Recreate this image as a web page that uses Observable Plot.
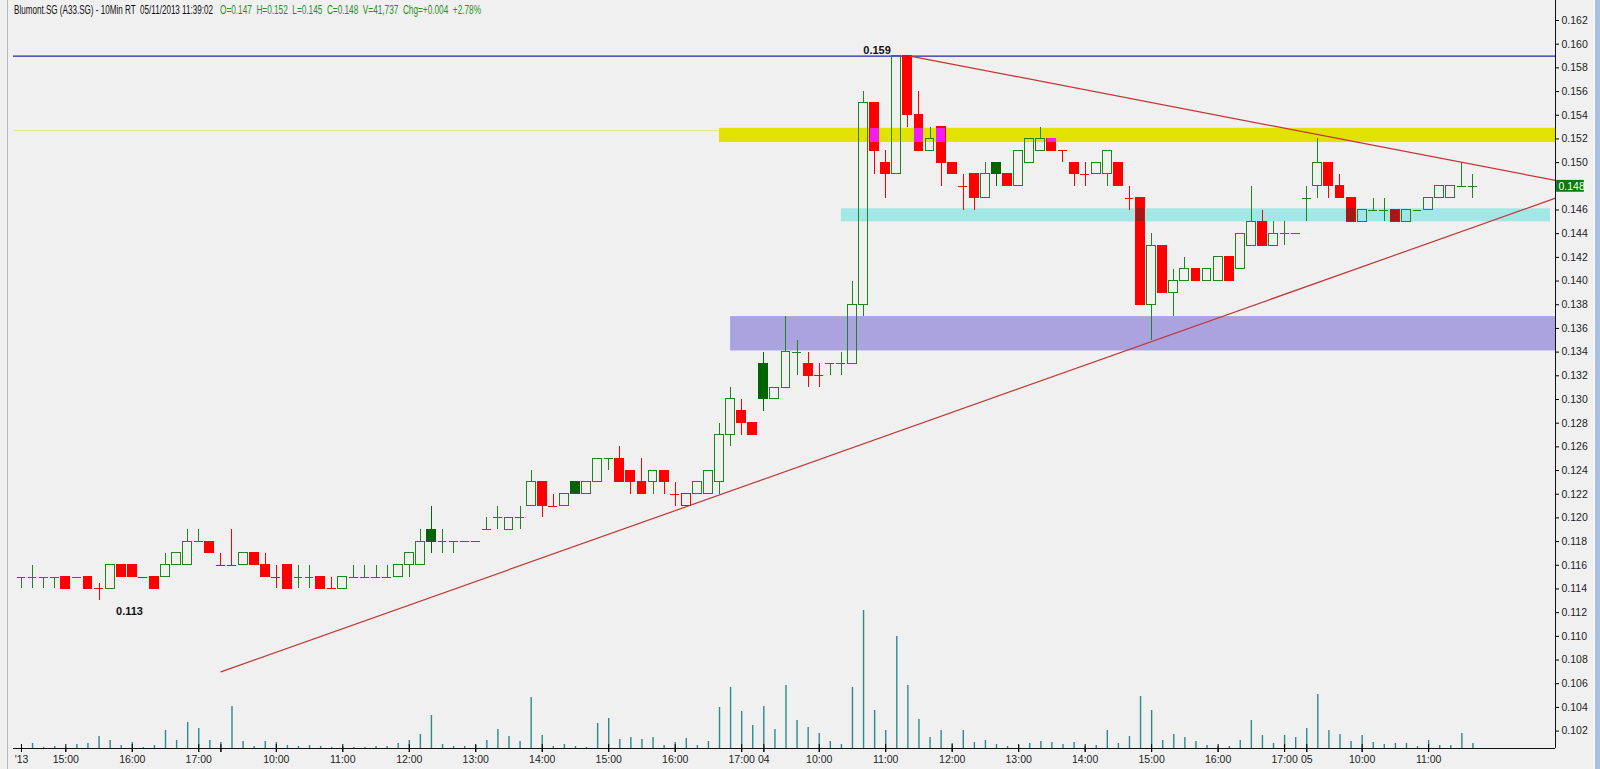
<!DOCTYPE html>
<html><head><meta charset="utf-8">
<script src="https://cdn.jsdelivr.net/npm/d3@7"></script>
<script src="https://cdn.jsdelivr.net/npm/@observablehq/plot@0.6"></script>
<style>
html,body{margin:0;padding:0;background:#f0f0f0;}
#wrap{position:relative;width:1600px;height:769px;overflow:hidden;background:#f0f0f0;}
#wrap svg{position:absolute;left:0;top:0;overflow:visible;}
.hdr{position:absolute;top:3px;font:12px "Liberation Sans",Arial,sans-serif;white-space:pre;transform-origin:0 0;line-height:14px;}
#h1{left:14px;color:#111;}
#h2{left:220px;color:#239023;}
#lframe{position:absolute;left:7px;top:0;width:1px;height:769px;background:#b8b8b8;}
#rframe{position:absolute;left:1594px;top:0;width:6px;height:769px;background:#a8bfe4;border-left:1px solid #fafafa;}
</style></head><body>
<div id="wrap">
<div id="lframe"></div><div id="rframe"></div>
<span class="hdr" id="h1">Blumont.SG (A33.SG) - 10Min RT  05/11/2013 11:39:02</span>
<span class="hdr" id="h2">O=0.147  H=0.152  L=0.145  C=0.148  V=41,737  Chg=+0.004  +2.78%</span>
</div>
<script>
// ---- data (10-minute bars, index order) ----
const open = [
.115,.115,.115,.115,.115,.115,.115,.114,.114,.116,
.116,.115,.115,.115,.116,.116,.118,.118,.116,.116,
.116,.117,.116,.115,.116,.115,.115,.115,.114,.114,
.115,.115,.115,.115,.115,.116,.116,.119,.118,.118,
.118,.118,.119,.120,.119,.120,.121,.123,.121,.121,
.123,.122,.123,.125,.125,.124,.123,.123,.124,.122,
.121,.122,.122,.123,.127,.129,.128,.133,.130,.131,
.134,.133,.132,.133,.133,.133,.138,.155,.150,.149,
.159,.154,.151,.153,.150,.148,.149,.147,.150,.149,
.148,.150,.151,.152,.151,.150,.149,.149,.149,.150,
.147,.147,.138,.143,.139,.140,.141,.140,.140,.142,
.141,.143,.145,.143,.144,.144,.147,.148,.150,.148,
.147,.145,.146,.146,.146,.145,.146,.146,.147,.147,
.148,.148];
const high = [
.115,.116,.115,.115,.115,.115,.115,.1145,.116,.116,
.116,.115,.115,.117,.117,.119,.119,.118,.117,.119,
.117,.117,.117,.116,.116,.116,.116,.115,.115,.115,
.116,.116,.116,.116,.116,.117,.119,.121,.119,.118,
.118,.118,.120,.121,.120,.121,.124,.123,.122,.122,
.123,.123,.125,.125,.126,.124,.125,.124,.124,.123,
.122,.123,.124,.128,.131,.130,.128,.134,.131,.137,
.135,.134,.133,.133,.134,.140,.156,.155,.151,.159,
.159,.156,.153,.153,.150,.149,.149,.150,.150,.149,
.151,.152,.153,.152,.151,.150,.150,.150,.151,.150,
.148,.147,.144,.143,.141,.142,.141,.141,.142,.142,
.144,.148,.146,.145,.145,.144,.148,.152,.150,.149,
.147,.146,.147,.147,.146,.146,.146,.147,.148,.148,
.150,.149];
const low = [
.114,.114,.114,.114,.114,.115,.114,.113,.114,.115,
.115,.115,.114,.115,.116,.116,.118,.117,.116,.116,
.116,.116,.115,.114,.114,.114,.114,.114,.114,.114,
.115,.115,.115,.115,.115,.115,.116,.117,.117,.117,
.118,.118,.119,.119,.119,.119,.121,.120,.121,.121,
.122,.122,.123,.124,.123,.122,.122,.122,.122,.121,
.121,.122,.122,.122,.126,.127,.127,.129,.130,.131,
.132,.131,.131,.132,.132,.133,.137,.149,.147,.149,
.153,.151,.151,.148,.149,.146,.146,.147,.148,.148,
.148,.150,.151,.151,.150,.148,.148,.149,.148,.148,
.146,.138,.135,.139,.137,.140,.140,.140,.140,.140,
.141,.143,.143,.143,.143,.144,.145,.147,.147,.147,
.145,.145,.146,.145,.145,.145,.146,.146,.147,.147,
.148,.147];
const close = [
.115,.115,.115,.115,.114,.115,.114,.114,.116,.115,
.115,.115,.114,.116,.117,.118,.118,.117,.116,.116,
.117,.116,.115,.115,.114,.115,.115,.114,.114,.115,
.115,.115,.115,.115,.116,.117,.118,.118,.118,.118,
.118,.118,.119,.120,.120,.120,.123,.121,.121,.122,
.122,.123,.125,.125,.123,.123,.122,.124,.123,.122,
.122,.123,.124,.127,.130,.128,.127,.130,.131,.134,
.134,.132,.132,.133,.133,.138,.155,.151,.149,.159,
.154,.151,.152,.150,.149,.148,.147,.149,.149,.148,
.151,.152,.152,.151,.151,.149,.149,.150,.151,.148,
.147,.138,.143,.139,.140,.141,.140,.141,.142,.140,
.144,.145,.143,.144,.144,.144,.147,.150,.148,.147,
.145,.146,.146,.146,.145,.146,.146,.147,.148,.148,
.148,.148];
// volume, read as bar heights (arbitrary units)
const volume = [
1,5,1,2,1,4,5,12,8,3,
6,1,3,18,8,26,20,8,6,42,
7,2,7,6,3,2,3,2,1,2,
1,1,2,2,5,8,14,33,4,2,
2,3,8,19,12,7,51,13,2,4,
2,1,25,30,9,11,9,11,3,6,
10,3,7,41,61,37,23,42,19,63,
28,21,15,7,4,61,138,38,18,112,
63,29,11,18,5,18,6,8,4,2,
3,5,7,6,4,6,2,3,18,5,
12,52,38,8,14,11,7,3,2,2,
8,28,13,5,13,11,20,54,18,14,
7,13,6,4,5,5,2,8,3,3,
15,5];

// x-axis ticks (bar index) and labels
const xTickIndex = [0,4,10,16,18,23,29,35,41,47,53,59,65,67,72,78,84,90,96,102,108,114,116,121,127];
const xTickLabel = ["'13","15:00","16:00","17:00","","10:00","11:00","12:00","13:00","14:00","15:00","16:00","17:00","04","10:00","11:00","12:00","13:00","14:00","15:00","16:00","17:00","05","10:00","11:00"];
// price axis ticks
const yTicks = [0.102,0.104,0.106,0.108,0.110,0.112,0.114,0.116,0.118,0.120,0.122,0.124,0.126,0.128,0.130,0.132,0.134,0.136,0.138,0.140,0.142,0.144,0.146,0.148,0.150,0.152,0.154,0.156,0.158,0.160,0.162];

// annotation zones (price bands) and lines
const bandName  = ["resistance","support","zone"];
const bandLo    = [0.1517, 0.1450, 0.1341];
const bandHi    = [0.1529, 0.1461, 0.1370];
const bandFrom  = [63, 74, 64];
const bandTo    = [null, 138, null];
const bandColor = ["#e2e200", "#a2e6e6", "#aba3e0"];
const bandTint  = ["#f21ef0", "#a81616", null];
const yellowLevel = 0.1527;
const blueLevel = 0.159;
const upperTrendX = [80.2, 138.45], upperTrendY = [0.1590, 0.1485];
const lowerTrendX = [18.0, 138.45], lowerTrendY = [0.1070, 0.1470];

// ---- build ----
const xDomain = [-0.72, 138.45];
const yDomain = [0.10053, 0.16369];
const UP = "#1f861f", UPFILL = "#006400", DN = "#ff0000";
const fmt = d3.format(".3f");

const data = open.map((o, i) => ({i, o, h: high[i], l: low[i], c: close[i], v: volume[i]}));
let prevCol = "up";
data.forEach((d, k) => {
  let col = prevCol;
  if (k > 0) { if (d.c > data[k-1].c) col = "up"; else if (d.c < data[k-1].c) col = "dn"; }
  d.col = col; prevCol = col;
  d.top = Math.max(d.o, d.c); d.bot = Math.min(d.o, d.c);
  d.kind = d.c > d.o ? "hollow" : d.c < d.o ? "filled" : "doji";
  d.stroke = col === "up" ? (d.kind === "filled" ? UPFILL : UP) : DN;
  d.fill = d.kind === "filled" ? (col === "up" ? UPFILL : DN) : "none";
});
const bodies = data.filter(d => d.kind !== "doji");
const dojis = data.filter(d => d.kind === "doji");
const bands = bandName.map((n, k) => ({n, lo: bandLo[k], hi: bandHi[k], from: bandFrom[k], to: bandTo[k] == null ? xDomain[1] : bandTo[k], color: bandColor[k], tint: bandTint[k]}));
const overlays = [];
bands.forEach(b => { if (!b.tint) return; bodies.forEach(d => {
  if (d.fill === DN && d.i >= b.from && d.i <= b.to) {
    const lo = Math.max(d.bot, b.lo), hi = Math.min(d.top, b.hi);
    if (hi > lo) overlays.push({i: d.i, lo, hi, fill: b.tint});
  }});});
const upper = upperTrendX.map((x, k) => ({x, y: upperTrendY[k]}));
const lower = lowerTrendX.map((x, k) => ({x, y: lowerTrendY[k]}));
const hiI = d3.maxIndex(high), loI = d3.minIndex(low);
const last = close[close.length - 1];
const labelMap = new Map(xTickIndex.map((v, k) => [v, xTickLabel[k]]));
const common = {width: 1600, height: 769, marginLeft: 13, marginRight: 45, marginBottom: 21};
const font = "'Liberation Sans', Arial, sans-serif";

const volPlot = Plot.plot({
  ...common, marginTop: 588,
  x: {domain: xDomain, axis: null},
  y: {domain: [0, 160], axis: null},
  style: {background: "#f0f0f0"},
  marks: [
    Plot.ruleX(data, {x: "i", y1: 0, y2: "v", stroke: "#2c8a8a", strokeWidth: 1.4})
  ]
});

const pricePlot = Plot.plot({
  ...common, marginTop: 0,
  x: {domain: xDomain, axis: null},
  y: {domain: yDomain, axis: null},
  color: {type: "identity"},
  style: {background: "transparent", fontFamily: font, overflow: "visible"},
  marks: [
    Plot.rect(bands, {x1: "from", x2: "to", y1: "lo", y2: "hi", fill: "color"}),
    Plot.ruleY([yellowLevel], {x1: () => xDomain[0], x2: () => bandFrom[0], stroke: "#e6e67c"}),
    Plot.ruleY([blueLevel], {stroke: "#2626b4", strokeWidth: 1.2}),
    Plot.ruleX(data, {x: "i", y1: "top", y2: "h", stroke: "stroke", shapeRendering: "crispEdges"}),
    Plot.ruleX(data, {x: "i", y1: "l", y2: "bot", stroke: "stroke", shapeRendering: "crispEdges"}),
    Plot.rect(bodies, {x1: d => d.i - 0.4, x2: d => d.i + 0.4, y1: "bot", y2: "top", fill: "fill", stroke: "stroke", shapeRendering: "crispEdges"}),
    Plot.rect(overlays, {x1: d => d.i - 0.4, x2: d => d.i + 0.4, y1: "lo", y2: "hi", fill: "fill", shapeRendering: "crispEdges"}),
    Plot.ruleY(dojis, {y: "c", x1: d => d.i - 0.4, x2: d => d.i + 0.4, stroke: "stroke", shapeRendering: "crispEdges"}),
    Plot.line(upper, {x: "x", y: "y", stroke: "#c43434", strokeWidth: 1.2}),
    Plot.line(lower, {x: "x", y: "y", stroke: "#c43434", strokeWidth: 1.2}),
    Plot.text([hiI], {x: i => i, y: i => high[i], text: i => fmt(high[i]), textAnchor: "end", dx: -6, dy: -6, fontSize: 11, fontWeight: "bold", fill: "#111"}),
    Plot.text([loI], {x: i => i, y: i => low[i], text: i => fmt(low[i]), textAnchor: "start", dx: 17, dy: 11, fontSize: 11, fontWeight: "bold", fill: "#111"}),
    Plot.ruleX([xDomain[1]], {stroke: "#111", shapeRendering: "crispEdges"}),
    Plot.ruleY([yDomain[0]], {stroke: "#111", shapeRendering: "crispEdges"}),
    Plot.axisY({anchor: "right", ticks: yTicks, tickFormat: v => Math.abs(v - last) < 1e-9 ? "" : fmt(v), tickSize: 3, tickPadding: 3, fontSize: 10.5, fill: "#222"}),
    Plot.axisX({anchor: "bottom", ticks: xTickIndex, tickSize: 8, dy: -4, tickFormat: () => ""}),
    Plot.axisX({anchor: "bottom", ticks: xTickIndex, tickSize: 4, tickPadding: 3, tickFormat: v => labelMap.get(v), fontSize: 10.5, fill: "#222"}),
    // last-price marker on the price axis
    Plot.rect([last], {x1: () => xDomain[1] + 0.1, x2: () => xDomain[1] + 2.6, y1: v => v - 0.5 / 1000, y2: v => v + 0.5 / 1000, fill: "#0a7a0a"}),
    Plot.text([last], {x: () => xDomain[1], y: v => v, text: v => fmt(v), textAnchor: "start", dx: 3, fontSize: 10.5, fill: "#ffffff"})
  ]
});

const wrap = document.getElementById("wrap");
wrap.insertBefore(volPlot, wrap.firstChild);
wrap.appendChild(pricePlot);

// header text fitted to its width
function fit(id, w) { const el = document.getElementById(id); const r = el.getBoundingClientRect().width; el.style.transform = `scaleX(${w / r})`; }
fit("h1", 199); fit("h2", 261);
</script>
</body></html>
